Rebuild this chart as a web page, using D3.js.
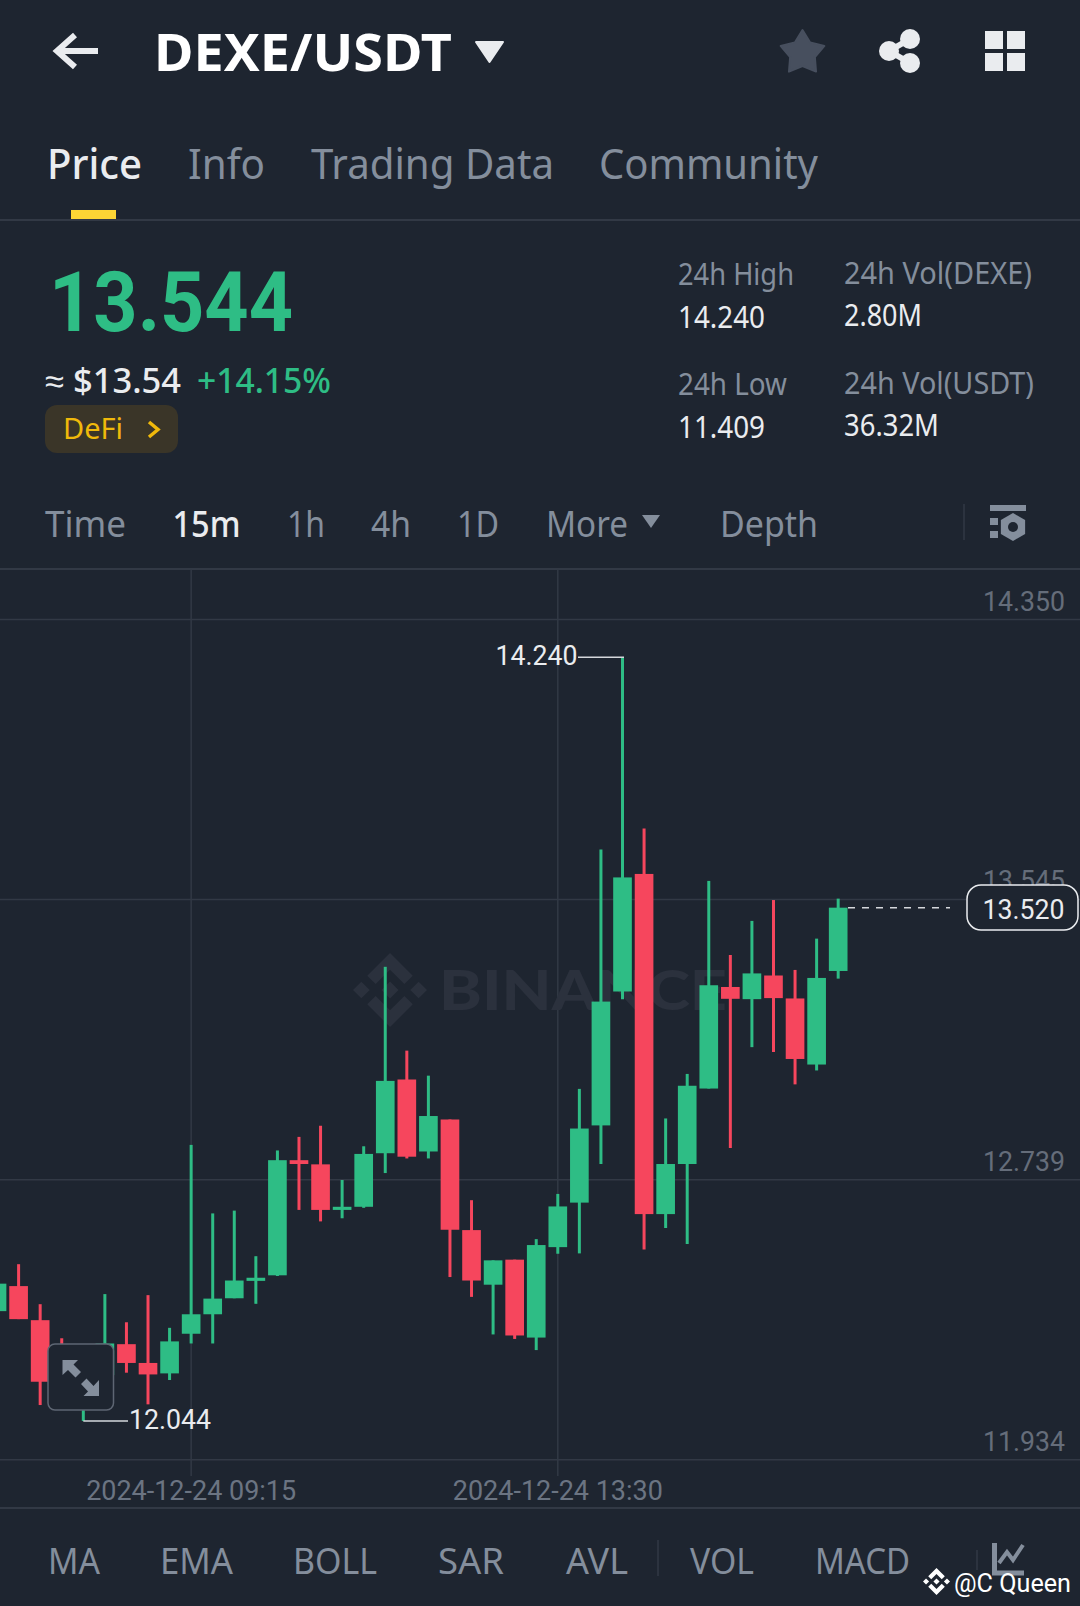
<!DOCTYPE html>
<html>
<head>
<meta charset="utf-8">
<title>DEXE/USDT</title>
<script src="https://cdn.jsdelivr.net/npm/d3@7"></script>
<style>
  html, body { margin: 0; padding: 0; background: #1e2530; }
  svg { display: block; }
</style>
</head>
<body>
<div id="chart"></div>
<script>
// 15m candles. The ones behind the expand button are estimates.
const times = ["07:00","07:15","07:30","07:45","08:00","08:15","08:30","08:45","09:00","09:15",
  "09:30","09:45","10:00","10:15","10:30","10:45","11:00","11:15","11:30","11:45",
  "12:00","12:15","12:30","12:45","13:00","13:15","13:30","13:45","14:00","14:15",
  "14:30","14:45","15:00","15:15","15:30","15:45","16:00","16:15","16:30","16:45"];
const opens = [12.360,12.432,12.334,12.242,12.119,12.176,12.265,12.211,12.181,12.295,
  12.351,12.397,12.447,12.463,12.794,12.782,12.651,12.660,12.814,13.026,
  12.819,12.911,12.593,12.436,12.508,12.284,12.544,12.672,12.894,13.279,
  13.617,12.639,12.783,13.000,13.292,13.257,13.325,13.259,13.069,13.338];
const highs = [12.439,12.495,12.380,12.282,12.240,12.409,12.328,12.406,12.312,12.838,
  12.641,12.649,12.518,12.822,12.861,12.893,12.737,12.834,13.350,13.109,
  13.037,12.911,12.679,12.506,12.508,12.567,12.697,12.999,13.687,14.240,
  13.748,12.914,13.042,13.597,13.384,13.482,13.542,13.341,13.431,13.546];
const lows = [12.360,12.337,12.090,12.104,12.044,12.150,12.183,12.092,12.162,12.267,
  12.267,12.397,12.381,12.461,12.651,12.618,12.627,12.657,12.757,12.799,
  12.799,12.458,12.401,12.293,12.280,12.248,12.525,12.526,12.783,13.257,
  12.537,12.599,12.553,13.000,12.829,13.119,13.105,13.012,13.052,13.316];
const closes = [12.439,12.337,12.157,12.147,12.219,12.267,12.211,12.178,12.273,12.351,
  12.396,12.448,12.456,12.794,12.783,12.651,12.660,12.812,13.022,12.804,
  12.921,12.594,12.448,12.506,12.290,12.550,12.661,12.885,13.250,13.607,
  12.639,12.783,13.008,13.297,13.258,13.331,13.260,13.085,13.318,13.520];
const priceTicks = [14.350, 13.545, 12.739, 11.934];
const timeTicks = ["09:15", "13:30"];
const lastPrice = 13.520;
const periods = ["Time", "15m", "1h", "4h", "1D", "More", "Depth"];
const indicators = ["MA", "EMA", "BOLL", "SAR", "AVL", "VOL", "MACD"];

const W = 1080, H = 1606;
const GREEN = "#2ebd85", RED = "#f6465d", GREY = "#848e9c", DIM = "#656d7a", WHITE = "#eaecef", LINE = "#323945";
const UI = "'Noto Sans', sans-serif", NUM = "Roboto, sans-serif";

const svg = d3.select("#chart").append("svg").attr("width", W).attr("height", H);
svg.append("rect").attr("width", W).attr("height", H).attr("fill", "#1e2530");

const x = d3.scaleBand().domain(times).range([-13.75, 848.97]).paddingInner(0.135).paddingOuter(0.0675);
const y = d3.scaleLinear().domain([11.934, 14.350]).range([1459.3, 619]);

// text helper, width forces the glyph run to the measured length
function label(g, str, px, py, size, fill, width, opts = {}) {
  const t = g.append("text").attr("x", px).attr("y", py)
    .attr("font-size", size).attr("fill", fill)
    .attr("font-family", opts.font || UI).attr("font-weight", opts.weight || 400)
    .text(str);
  if (width) t.attr("textLength", width).attr("lengthAdjust", "spacingAndGlyphs");
  return t;
}
function sep(g, x1, y1, x2, y2, color = LINE, w = 2) {
  g.append("line").attr("x1", x1).attr("y1", y1).attr("x2", x2).attr("y2", y2)
    .attr("stroke", color).attr("stroke-width", w);
}
const BNB = "M38.73 53.2l24.59-24.58 24.6 24.6 14.3-14.31L63.32 0 24.43 38.9zM0 63.31l14.3-14.31 14.31 14.31-14.31 14.3zM38.73 73.41l24.59 24.59 24.6-24.6 14.31 14.29-38.9 38.91-38.91-38.88zM98 63.31L112.3 49l14.31 14.3-14.31 14.32zM77.83 63.3L63.32 48.78 52.59 59.51l-1.24 1.23-2.54 2.54 14.51 14.5 14.51-14.47z";
function logo(g, px, py, size, fill) {
  g.append("path").attr("d", BNB).attr("fill", fill)
    .attr("transform", `translate(${px},${py}) scale(${size / 126.61})`);
}

// header
const head = svg.append("g");
head.append("path").attr("d", "M98 51H58M75 35L57 51L75 67").attr("fill", "none")
  .attr("stroke", WHITE).attr("stroke-width", 6);
label(head, "DEXE/USDT", 154, 71, 52, "#ffffff", 298, { weight: 700 });
head.append("path").attr("d", "M476 42H503L489.500 62Z").attr("fill", WHITE).attr("stroke", WHITE).attr("stroke-linejoin", "round").attr("stroke-width", 2);
const starPts = d3.range(10).map(i => {
  const r = i % 2 ? 13 : 23, a = i * Math.PI / 5 - Math.PI / 2;
  return [802.5 + r * Math.cos(a), 53 + r * Math.sin(a)];
});
head.append("path").attr("d", d3.line().curve(d3.curveLinearClosed)(starPts)).attr("fill", "#474f5e")
  .attr("stroke", "#474f5e").attr("stroke-width", 2).attr("stroke-linejoin", "round");
head.append("path").attr("d", "M889 51L910 39M889 51L910 63").attr("stroke", WHITE).attr("stroke-width", 6);
[[889, 51], [910, 39], [910, 63]].forEach(c => head.append("circle").attr("cx", c[0]).attr("cy", c[1]).attr("r", 10).attr("fill", WHITE));
[[985, 31], [1007, 31], [985, 53], [1007, 53]].forEach(c => head.append("rect").attr("x", c[0]).attr("y", c[1]).attr("width", 18).attr("height", 18).attr("fill", WHITE));

// tabs
label(head, "Price", 47, 179, 41, WHITE, 95, { weight: 500 });
label(head, "Info", 188, 179, 41, GREY, 77);
label(head, "Trading Data", 311, 179, 41, GREY, 243);
label(head, "Community", 599, 179, 41, GREY, 219);
head.append("rect").attr("x", 71).attr("y", 210).attr("width", 45).attr("height", 9).attr("fill", "#fcd535");
sep(head, 0, 220, W, 220);

// ticker block
const tick = svg.append("g");
label(tick, "13.544", 49, 331, 84, GREEN, 244, { font: NUM, weight: 700 });
label(tick, "≈ $13.54", 45, 393, 34, WHITE, 136, { weight: 500 });
label(tick, "+14.15%", 197, 393, 34, GREEN, 134, { weight: 500 });
tick.append("rect").attr("x", 45).attr("y", 405).attr("width", 133).attr("height", 48).attr("rx", 12).attr("fill", "#3a3528");
label(tick, "DeFi", 63, 439, 29, "#f0b90b", 60);
tick.append("path").attr("d", "M149 422L158 429.500L149 437").attr("fill", "none").attr("stroke", "#f0b90b").attr("stroke-width", 3.500);
label(tick, "24h High", 678, 285, 30, GREY, 116);
label(tick, "14.240", 678, 328, 30, WHITE, 87);
label(tick, "24h Vol(DEXE)", 844, 284, 30, GREY, 188);
label(tick, "2.80M", 844, 326, 30, WHITE, 78);
label(tick, "24h Low", 678, 395, 30, GREY, 109);
label(tick, "11.409", 678, 438, 30, WHITE, 87);
label(tick, "24h Vol(USDT)", 844, 394, 30, GREY, 190);
label(tick, "36.32M", 844, 436, 30, WHITE, 95);

// period row
const row = svg.append("g");
const periodSlots = [[45, 81], [172.500, 68], [287, 38], [371, 40], [457, 42], [546, 82], [720, 98]];
periods.forEach((p, i) => {
  const on = p === "15m";
  label(row, p, periodSlots[i][0], 537, 37, on ? WHITE : GREY, periodSlots[i][1], { weight: on ? 500 : 400 });
});
row.append("path").attr("d", "M642 515H660L651 528Z").attr("fill", GREY);
sep(row, 964, 504, 964, 540, LINE, 1.500);
row.append("rect").attr("x", 990).attr("y", 505).attr("width", 36).attr("height", 6).attr("fill", GREY);
row.append("rect").attr("x", 990).attr("y", 518).attr("width", 8).attr("height", 7).attr("fill", GREY);
row.append("rect").attr("x", 990).attr("y", 531).attr("width", 8).attr("height", 7).attr("fill", GREY);
const hexPts = d3.range(6).map(i => [1013 + 14 * Math.cos(i * Math.PI / 3 + Math.PI / 6), 527 + 14 * Math.sin(i * Math.PI / 3 + Math.PI / 6)]);
row.append("path").attr("d", d3.line().curve(d3.curveLinearClosed)(hexPts)).attr("fill", GREY);
row.append("circle").attr("cx", 1013).attr("cy", 527).attr("r", 5).attr("fill", "#1e2530");

// chart frame and axes
sep(svg, 0, 569, W, 569);
sep(svg, 0, 1508, W, 1508);

const yAxis = svg.append("g").attr("transform", `translate(${W},0)`)
  .call(d3.axisLeft(y).tickValues(priceTicks).tickFormat(d3.format(".3f")).tickSize(W));
yAxis.select(".domain").remove();
yAxis.selectAll("line").attr("stroke", LINE).attr("stroke-width", 1.500);
yAxis.selectAll("text").attr("x", -15).attr("dy", -9).attr("text-anchor", "end")
  .attr("font-family", NUM).attr("font-size", 27).attr("fill", DIM)
  .attr("textLength", 82).attr("lengthAdjust", "spacingAndGlyphs");

const xAxis = svg.append("g").attr("transform", "translate(0,569)")
  .call(d3.axisBottom(x).tickValues(timeTicks).tickFormat(t => "2024-12-24 " + t).tickSize(907));
xAxis.select(".domain").remove();
xAxis.selectAll("line").attr("stroke", LINE).attr("stroke-width", 1.500);
xAxis.selectAll("text").attr("y", 931).attr("dy", 0)
  .attr("font-family", NUM).attr("font-size", 27).attr("fill", "#6b7482")
  .attr("textLength", 210).attr("lengthAdjust", "spacingAndGlyphs");

// watermark
const mark = svg.append("g");
logo(mark, 353, 953, 74, "#2b313d");
label(mark, "BINANCE", 439, 1010, 56, "#2b313d", 288, { font: "Lato, sans-serif", weight: 900 });

// candles
const candles = svg.append("g");
const bw = x.bandwidth();
times.forEach((t, i) => {
  const color = closes[i] >= opens[i] ? GREEN : RED;
  const cx = x(t) + bw / 2;
  candles.append("line").attr("x1", cx).attr("x2", cx)
    .attr("y1", y(highs[i])).attr("y2", y(lows[i]))
    .attr("stroke", color).attr("stroke-width", 3);
  const top = y(Math.max(opens[i], closes[i])), bottom = y(Math.min(opens[i], closes[i]));
  candles.append("rect").attr("x", x(t)).attr("width", bw)
    .attr("y", top).attr("height", Math.max(bottom - top, 3))
    .attr("fill", color);
});

// high / low callouts
const hiI = highs.indexOf(d3.max(highs)), loI = lows.indexOf(d3.min(lows));
const calls = svg.append("g");
const hiX = x(times[hiI]) + bw / 2, loX = x(times[loI]) + bw / 2;
sep(calls, 578, y(highs[hiI]), hiX + 1.500, y(highs[hiI]), "#d5d8dc", 1.500);
label(calls, d3.format(".3f")(highs[hiI]), 495.500, 665, 27, WHITE, 82, { font: NUM });

// expand button sits on top of the candles
const btn = svg.append("g");
btn.append("rect").attr("x", 48).attr("y", 1344).attr("width", 65.500).attr("height", 66).attr("rx", 7)
  .attr("fill", "#1e2530").attr("stroke", "#5e6673").attr("stroke-width", 1.500);
btn.append("path").attr("d", "M62.500 1360H78L73.500 1364.500L81 1372L75.500 1377.500L68 1370L62.500 1375Z").attr("fill", GREY);
btn.append("path").attr("d", "M99 1396H83.500L88 1391.500L81 1384L86.500 1378.500L93.500 1386L99 1380Z").attr("fill", GREY);

sep(calls, loX, y(lows[loI]), 128, y(lows[loI]), "#d5d8dc", 1.500);
label(calls, d3.format(".3f")(lows[loI]), 129, 1429, 27, WHITE, 82, { font: NUM });

// last price tag
const tag = svg.append("g");
tag.append("line").attr("x1", 848).attr("x2", 950).attr("y1", y(lastPrice)).attr("y2", y(lastPrice))
  .attr("stroke", "#d5d8dc").attr("stroke-width", 1.500).attr("stroke-dasharray", "7 7");
tag.append("rect").attr("x", 967).attr("y", 885).attr("width", 111).attr("height", 45).attr("rx", 14)
  .attr("fill", "#1e2530").attr("stroke", WHITE).attr("stroke-width", 1.500);
label(tag, d3.format(".3f")(lastPrice), 982.500, 918.500, 28, WHITE, 82, { font: NUM });

// indicator row
const foot = svg.append("g");
const indicatorSlots = [[48, 52], [160, 73], [293, 84], [438, 66], [566, 62], [690, 64], [815, 95]];
indicators.forEach((n, i) => label(foot, n, indicatorSlots[i][0], 1574, 36, GREY, indicatorSlots[i][1]));
sep(foot, 658, 1540, 658, 1576, LINE, 1.500);
sep(foot, 977, 1550, 977, 1570, LINE, 1.500);
foot.append("path").attr("d", "M994.500 1543V1573H1024").attr("fill", "none").attr("stroke", GREY).attr("stroke-width", 5);
foot.append("path").attr("d", "M999 1563L1007 1552L1013 1560L1023 1545").attr("fill", "none").attr("stroke", GREY).attr("stroke-width", 4);

// share credit
logo(foot, 923, 1568, 27, "#ffffff");
label(foot, "@C Queen", 954, 1592, 26, "#ffffff", 117, { font: NUM });
</script>
</body>
</html>
